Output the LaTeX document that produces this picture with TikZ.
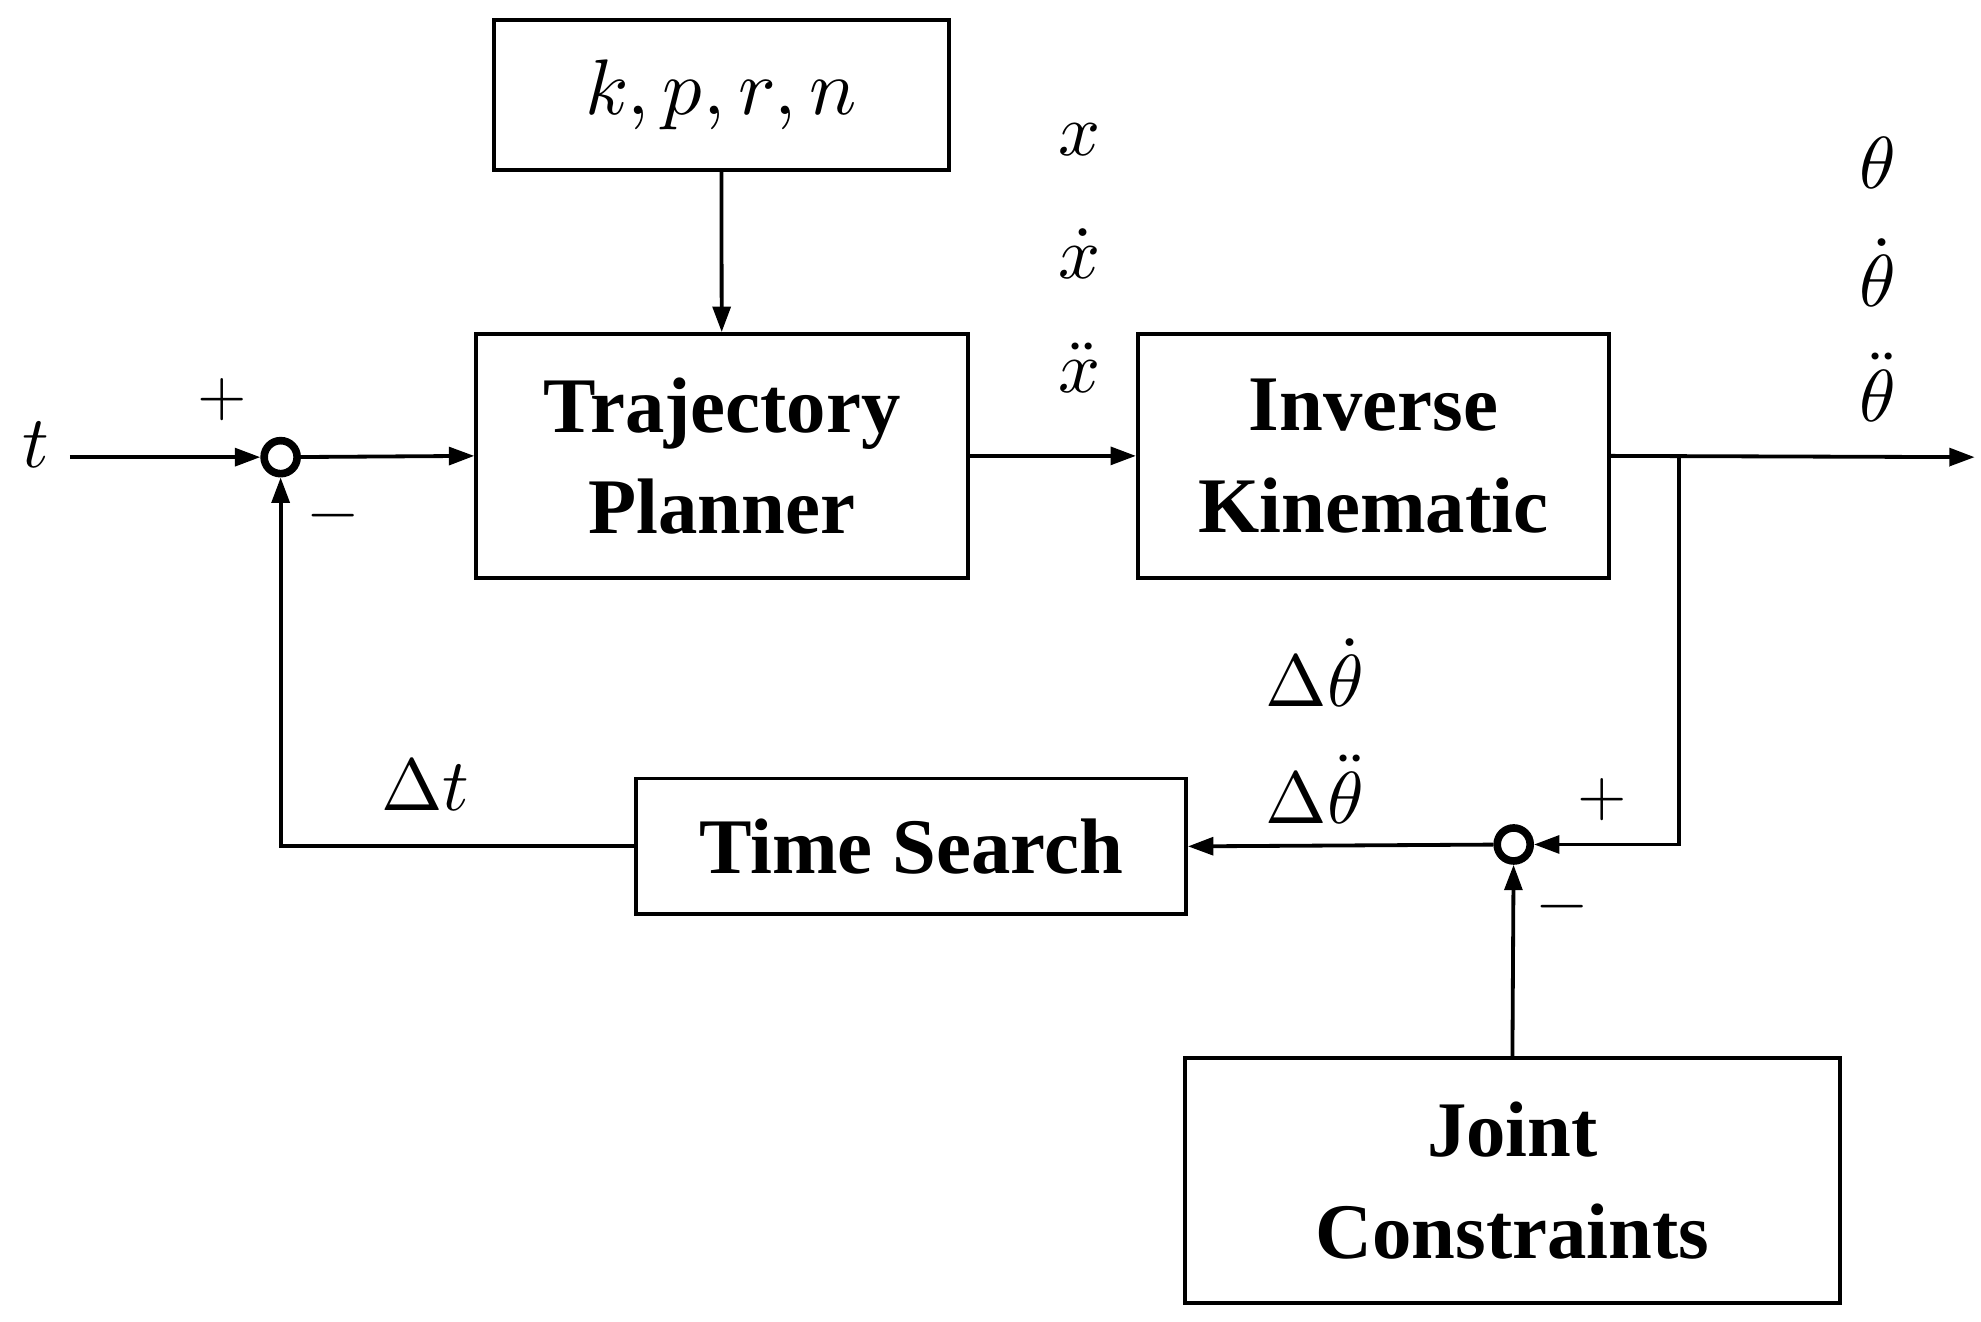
\documentclass[tikz,border=0pt]{standalone}
\usepackage{unicode-math}
\setmainfont{Liberation Serif}
\setmathfont{Latin Modern Math}
\usetikzlibrary{arrows.meta}
\begin{document}
\begin{tikzpicture}[x=1pt,y=-1pt,
  box/.style={draw,line width=3pt,font=\fontsize{62}{80}\selectfont\bfseries,align=center,inner sep=0pt},
  sum/.style={draw,circle,line width=6pt,minimum size=26pt,inner sep=0pt},
  ln/.style={line width=3pt},
  ar/.style={ln,-{Triangle[length=20pt,width=14pt]}},
  lb/.style={font=\fontsize{58}{58}\selectfont},
  pm/.style={font=\fontsize{50}{50}\selectfont}]
\useasboundingbox (0,0) rectangle (1560,1041);
\node[box,minimum width=358pt,minimum height=118pt] (k) at (568,75) {$k,p,r,n$};
\node[box,minimum width=387pt,minimum height=192pt] (tp) at (568.5,359) {Trajectory\\Planner};
\node[box,minimum width=371pt,minimum height=192pt] (ik) at (1081.5,359) {Inverse\\Kinematic};
\node[box,minimum width=433pt,minimum height=107pt] (ts) at (717.5,666.5) {Time Search};
\node[box,minimum width=516pt,minimum height=193pt] (jc) at (1191,929.5) {Joint\\Constraints};
\node[sum] (s1) at (221,360) {};
\node[sum] (s2) at (1192,665) {};
\node[lb] (t) at (28,350) {$t$};
\coordinate (tin) at (55,360);
\coordinate (out) at (1555,360);
\coordinate (br) at (1322,360);
\coordinate (c1) at (221,666.5);
\draw[ar] (tin) -- (s1);
\draw[ar] (s1) -- (tp.west);
\draw[ar] (k) -- (tp);
\draw[ar] (tp.east) -- (tp.east -| ik.west);
\draw[ar] (ik.east) -- (out);
\draw[ar] (br) |- (s2);
\draw[ar] (s2) -- (ts.east);
\draw[ar] (ts.west) -- (c1) -- (s1);
\draw[ar] (jc.north) -- (s2);
\node[pm] at (175,315) {$\symbf{+}$};
\node[pm] at (262,412) {$\symbf{-}$};
\node[pm] at (1262,630) {$\symbf{+}$};
\node[pm] at (1230,720) {$\symbf{-}$};
\node[lb] at (335,618) {$\Delta t$};
\node[lb] at (850,110) {$x$};
\node[lb] at (850,200) {$\dot x$};
\node[lb] at (850,290) {$\ddot x$};
\node[lb] at (1478,128) {$\theta$};
\node[lb] at (1478,215) {$\dot\theta$};
\node[lb] at (1478,305) {$\ddot\theta$};
\node[lb] at (1035,530) {$\Delta\dot\theta$};
\node[lb] at (1035,622) {$\Delta\ddot\theta$};
\end{tikzpicture}
\end{document}
